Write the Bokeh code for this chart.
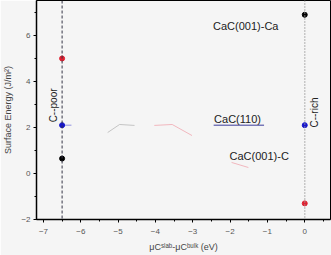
from bokeh.plotting import figure
from bokeh.models import Span, SingleIntervalTicker, ColumnDataSource
from bokeh.core.properties import value
from bokeh.embed import file_html
from bokeh.resources import INLINE
import math

# end points (C-poor, C-rich)
mu_x = [-6.5, 0.0]
cac001_ca = [0.65, 6.9]
cac110 = [2.1, 2.1]
cac001_c = [5.0, -1.3]

# faint fragments of curves visible in the picture
frag_gray_x = [-5.28, -4.96, -4.56]
frag_gray_y = [1.78, 2.13, 2.09]
frag_pink1_x = [-4.03, -3.55, -3.02]
frag_pink1_y = [2.09, 2.13, 1.65]
frag_pink2_x = [-1.96, -1.51]
frag_pink2_y = [0.48, 0.26]
frag_blue_x = [-2.44, -1.09]
frag_blue_y = [2.1, 2.1]
frag_blue2_x = [-6.5, -6.25]
frag_blue2_y = [2.1, 2.1]

labels = ["CaC(001)-Ca", "CaC(110)", "CaC(001)-C"]
label_x = [-1.58, -1.8, -1.22]
label_y = [6.43, 2.35, 0.78]

side_labels = ["C--poor", "C--rich"]
side_x = [-6.72, 0.27]
side_y = [2.96, 2.65]

FONT = "Liberation Sans"
BG = "#f5f5f5"

p = figure(width=331, height=255, output_backend="svg", toolbar_location=None,
           x_range=(-7.186, 0.69), y_range=(-2.0, 7.52),
           min_border_left=33, min_border_right=1, min_border_top=0, min_border_bottom=36,
           background_fill_color=BG, border_fill_color=BG)
p.grid.visible = False
p.outline_line_color = "black"
p.outline_line_width = 1

p.xaxis.ticker = SingleIntervalTicker(interval=1, num_minor_ticks=2)
p.yaxis.ticker = SingleIntervalTicker(interval=2, num_minor_ticks=2)
for ax in (p.xaxis, p.yaxis):
    ax.axis_line_color = "black"
    ax.axis_line_width = 1.5
    ax.major_tick_line_color = "black"
    ax.minor_tick_line_color = "black"
    ax.major_tick_out = 3
    ax.major_tick_in = 0
    ax.minor_tick_out = 2
    ax.minor_tick_in = 0
    ax.major_label_text_font = FONT
    ax.major_label_text_font_size = "8px"
    ax.major_label_text_color = "#555555"
    ax.major_label_standoff = 3
    ax.axis_label_text_font = FONT
    ax.axis_label_text_font_style = "normal"
    ax.axis_label_text_color = "#444444"
    ax.axis_label_text_font_size = "9px"
    ax.axis_label_standoff = 5
p.xaxis.major_label_standoff = 6
p.xaxis.axis_label = "μCˢˡᵃᵇ-μCᵇᵘˡᵏ (eV)"
p.yaxis.axis_label = "Surface Energy (J/m²)"

p.add_layout(Span(location=-6.5, dimension="height", line_color="#333344",
                  line_dash="3 2", line_width=1))
p.add_layout(Span(location=0.0, dimension="height", line_color="#999999",
                  line_dash="1 2", line_width=1.5))

p.line(frag_gray_x, frag_gray_y, line_color="#b8b8b8", line_width=1, line_alpha=0.8)
p.line(frag_pink1_x, frag_pink1_y, line_color="#f0a8b0", line_width=1, line_alpha=0.8)
p.line(frag_pink2_x, frag_pink2_y, line_color="#f0a8b0", line_width=1, line_alpha=0.8)
p.line(frag_blue_x, frag_blue_y, line_color="#3a3a9a", line_width=1)
p.line(frag_blue2_x, frag_blue2_y, line_color="#9090e0", line_width=1)

p.scatter(mu_x, cac001_ca, size=5, color="black")
p.scatter(mu_x, cac110, size=5, color="#1515cc")
p.scatter(mu_x, cac001_c, size=5, color="#e02030")

src = ColumnDataSource(dict(x=label_x, y=label_y, t=labels))
p.text("x", "y", text="t", source=src, text_font=value(FONT), text_font_size="11px",
       text_color="#222222", text_align="center", text_baseline="middle")
src2 = ColumnDataSource(dict(x=side_x, y=side_y, t=side_labels))
p.text("x", "y", text="t", source=src2, text_font=value(FONT), text_font_size="10px",
       text_color="#222222", text_align="center", text_baseline="middle", angle=math.pi / 2)

open("out.html", "w").write(file_html(p, INLINE))
